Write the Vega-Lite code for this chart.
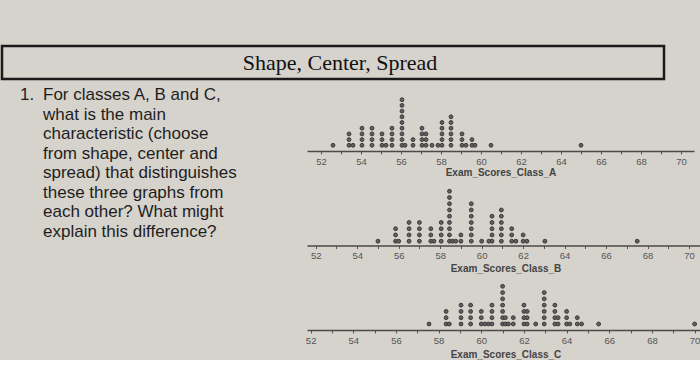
{
  "$schema": "https://vega.github.io/schema/vega-lite/v6.json",
  "background": "#d6d3cc",
  "padding": {"left": 0, "top": 44, "right": 0, "bottom": 0},
  "config": {
    "view": {"stroke": null},
    "font": "Liberation Sans",
    "axis": {
      "labelFont": "Liberation Sans", "titleFont": "Liberation Sans",
      "labelFontSize": 9.5, "labelColor": "#555", "titleFontSize": 10, "titleFontWeight": "bold", "titleColor": "#444",
      "domainColor": "#4a4a4a", "domainWidth": 1.5, "tickColor": "#555", "tickSize": 3, "grid": false,
      "labelPadding": 2, "titlePadding": 1, "labelFlush": false, "labelOverlap": false
    }
  },
  "datasets": {
    "A": [
      {"score": 52.6},
      {"score": 53.4}, {"score": 53.4}, {"score": 53.4}, {"score": 53.6},
      {"score": 54.05}, {"score": 54.05}, {"score": 54.05}, {"score": 54.05},
      {"score": 54.55}, {"score": 54.55}, {"score": 54.55}, {"score": 54.55},
      {"score": 55.05}, {"score": 55.05}, {"score": 55.05}, {"score": 55.25},
      {"score": 55.55}, {"score": 55.55}, {"score": 55.55}, {"score": 55.55},
      {"score": 56.05}, {"score": 56.05}, {"score": 56.05}, {"score": 56.05}, {"score": 56.05}, {"score": 56.05}, {"score": 56.05}, {"score": 56.05}, {"score": 56.05},
      {"score": 56.2},
      {"score": 56.6}, {"score": 56.6},
      {"score": 57.05}, {"score": 57.05}, {"score": 57.05}, {"score": 57.05},
      {"score": 57.25}, {"score": 57.25}, {"score": 57.25},
      {"score": 57.55},
      {"score": 57.85},
      {"score": 58.05}, {"score": 58.05}, {"score": 58.05}, {"score": 58.05}, {"score": 58.05},
      {"score": 58.5}, {"score": 58.5}, {"score": 58.5}, {"score": 58.5}, {"score": 58.5}, {"score": 58.5},
      {"score": 59.05}, {"score": 59.05}, {"score": 59.05}, {"score": 59.25},
      {"score": 59.55}, {"score": 59.55}, {"score": 59.7},
      {"score": 60.5},
      {"score": 65.0}
    ],
    "B": [
      {"score": 55.0},
      {"score": 55.85}, {"score": 55.85}, {"score": 55.85}, {"score": 56.0},
      {"score": 56.5}, {"score": 56.5}, {"score": 56.5}, {"score": 56.5},
      {"score": 57.0}, {"score": 57.0}, {"score": 57.0}, {"score": 57.0},
      {"score": 57.55}, {"score": 57.55}, {"score": 57.55}, {"score": 57.7},
      {"score": 58.05}, {"score": 58.05}, {"score": 58.05}, {"score": 58.05},
      {"score": 58.45}, {"score": 58.45}, {"score": 58.45}, {"score": 58.45}, {"score": 58.45}, {"score": 58.45}, {"score": 58.45}, {"score": 58.45}, {"score": 58.45},
      {"score": 58.6}, {"score": 58.75},
      {"score": 59.0}, {"score": 59.0},
      {"score": 59.5}, {"score": 59.5}, {"score": 59.5}, {"score": 59.5}, {"score": 59.5}, {"score": 59.5}, {"score": 59.5},
      {"score": 60.0},
      {"score": 60.35},
      {"score": 60.5}, {"score": 60.5}, {"score": 60.5}, {"score": 60.5}, {"score": 60.5},
      {"score": 60.95}, {"score": 60.95}, {"score": 60.95}, {"score": 60.95}, {"score": 60.95}, {"score": 60.95},
      {"score": 61.45}, {"score": 61.45}, {"score": 61.45}, {"score": 61.65},
      {"score": 62.0}, {"score": 62.0}, {"score": 62.18},
      {"score": 63.05},
      {"score": 67.5}
    ],
    "C": [
      {"score": 57.55},
      {"score": 58.35}, {"score": 58.35}, {"score": 58.35}, {"score": 58.5},
      {"score": 59.05}, {"score": 59.05}, {"score": 59.05}, {"score": 59.05},
      {"score": 59.5}, {"score": 59.5}, {"score": 59.5}, {"score": 59.5},
      {"score": 60.0}, {"score": 60.0}, {"score": 60.0}, {"score": 60.17}, {"score": 60.33},
      {"score": 60.5}, {"score": 60.5}, {"score": 60.5}, {"score": 60.5},
      {"score": 61.0}, {"score": 61.0}, {"score": 61.0}, {"score": 61.0}, {"score": 61.0}, {"score": 61.0}, {"score": 61.0},
      {"score": 61.13}, {"score": 61.13}, {"score": 61.27},
      {"score": 61.5}, {"score": 61.5},
      {"score": 62.0}, {"score": 62.0}, {"score": 62.0}, {"score": 62.0},
      {"score": 62.15}, {"score": 62.15}, {"score": 62.15},
      {"score": 62.55},
      {"score": 62.95}, {"score": 62.95}, {"score": 62.95}, {"score": 62.95}, {"score": 62.95}, {"score": 62.95},
      {"score": 63.45}, {"score": 63.45}, {"score": 63.45}, {"score": 63.45},
      {"score": 63.6}, {"score": 63.6},
      {"score": 64.0}, {"score": 64.0}, {"score": 64.0}, {"score": 64.15},
      {"score": 64.5}, {"score": 64.5}, {"score": 64.7},
      {"score": 65.5},
      {"score": 70.0}
    ]
  },
  "spacing": 4,
  "vconcat": [
    {
      "width": 662,
      "height": 33,
      "view": {"stroke": "#1a1a1a", "strokeWidth": 2.5},
      "data": {"values": [{"label": "Shape, Center, Spread"}]},
      "mark": {"type": "text", "font": "Liberation Serif", "fontSize": 22, "color": "#111", "dx": 7},
      "encoding": {"text": {"field": "label"}}
    },
    {
      "spacing": 13,
      "hconcat": [
        {
          "width": 290,
          "height": 2,
          "layer": [
            {
              "data": {"values": [{"t": "1."}]},
              "mark": {"type": "text", "align": "left", "baseline": "top", "font": "Liberation Sans", "fontSize": 17, "color": "#1e1e1e", "dx": -127, "dy": 1},
              "encoding": {"text": {"field": "t"}}
            },
            {
              "data": {"values": [{"t": ["For classes A, B and C,", "what is the main", "characteristic (choose", "from shape, center and", "spread) that distinguishes", "these three graphs from", "each other? What might", "explain this difference?"]}]},
              "mark": {"type": "text", "align": "left", "baseline": "top", "font": "Liberation Sans", "fontSize": 17, "lineHeight": 19.5, "color": "#1e1e1e", "dx": -104, "dy": 1},
              "encoding": {"text": {"field": "t"}}
            }
          ]
        },
        {
          "spacing": 7,
          "vconcat": [
            {
              "width": 387,
              "height": 66,
              "data": {"name": "A"},
              "transform": [{"window": [{"op": "row_number", "as": "level"}], "groupby": ["score"]}],
              "mark": {"type": "point", "filled": true, "size": 15, "fill": "#5f5f5f", "stroke": "#3c3c3c", "strokeWidth": 1, "opacity": 1},
              "encoding": {
                "x": {"field": "score", "type": "quantitative", "scale": {"domain": [51.3, 70.65], "nice": false, "zero": false},
                  "axis": {"values": [52,53,54,55,56,57,58,59,60,61,62,63,64,65,66,67,68,69,70], "labelExpr": "datum.value % 2 === 0 ? datum.label : ''", "title": "Exam_Scores_Class_A", "titlePadding": 2}},
                "y": {"field": "level", "type": "quantitative", "scale": {"domain": [0, 11.58], "nice": false, "zero": false}, "axis": null}
              }
            },
            {
              "width": 397,
              "height": 60.5,
              "data": {"name": "B"},
              "transform": [{"window": [{"op": "row_number", "as": "level"}], "groupby": ["score"]}],
              "mark": {"type": "point", "filled": true, "size": 15, "fill": "#5f5f5f", "stroke": "#3c3c3c", "strokeWidth": 1, "opacity": 1},
              "encoding": {
                "x": {"field": "score", "type": "quantitative", "scale": {"domain": [51.58, 70.72], "nice": false, "zero": false},
                  "axis": {"values": [52,53,54,55,56,57,58,59,60,61,62,63,64,65,66,67,68,69,70], "labelExpr": "datum.value % 2 === 0 ? datum.label : ''", "title": "Exam_Scores_Class_B", "titlePadding": 3}},
                "y": {"field": "level", "type": "quantitative", "scale": {"domain": [0.31, 10], "nice": false, "zero": false}, "axis": null}
              }
            },
            {
              "width": 397,
              "height": 50,
              "data": {"name": "C"},
              "transform": [{"window": [{"op": "row_number", "as": "level"}], "groupby": ["score"]}],
              "mark": {"type": "point", "filled": true, "size": 15, "fill": "#5f5f5f", "stroke": "#3c3c3c", "strokeWidth": 1, "opacity": 1},
              "encoding": {
                "x": {"field": "score", "type": "quantitative", "scale": {"domain": [51.83, 70.44], "nice": false, "zero": false},
                  "axis": {"values": [52,53,54,55,56,57,58,59,60,61,62,63,64,65,66,67,68,69,70], "labelExpr": "datum.value % 2 === 0 ? datum.label : ''", "title": "Exam_Scores_Class_C", "titlePadding": 5}},
                "y": {"field": "level", "type": "quantitative", "scale": {"domain": [0.04, 8], "nice": false, "zero": false}, "axis": null}
              }
            }
          ]
        }
      ]
    }
  ]
}
